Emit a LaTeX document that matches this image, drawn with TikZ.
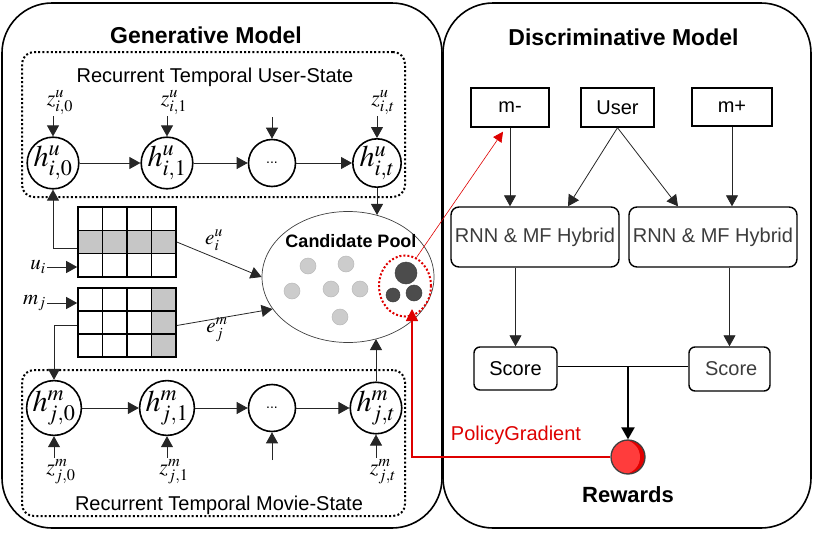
\documentclass[tikz,border=0pt]{standalone}
\usepackage{mathptmx}
\usepackage{fontspec}
\setmainfont{Liberation Sans}
\usetikzlibrary{arrows.meta,shapes.geometric,calc}
\newcommand{\myfs}[1]{\fontsize{#1}{#1}\selectfont}
\definecolor{pgred}{RGB}{222,0,0}
\definecolor{rlight}{RGB}{255,60,60}
\definecolor{rdark}{RGB}{225,0,0}
\definecolor{txtgray}{RGB}{60,60,60}
\begin{document}
\begin{tikzpicture}[x=1pt,y=-1pt,
  outer/.style={draw, line width=1.6pt, rounded corners=50pt, inner sep=0pt},
  dotbox/.style={draw, line width=2pt, dash pattern=on 2pt off 2.2pt, rounded corners=12pt, inner sep=0pt},
  hnode/.style={circle, draw, line width=1.6pt, minimum size=47pt, inner sep=0pt, font=\myfs{30}},
  zlab/.style={inner sep=1pt, font=\myfs{22}},
  ilab/.style={inner sep=1pt, font=\myfs{21}},
  arr/.style={-{Triangle[length=11pt,width=12pt]}, line width=0.8pt, draw=black!85},
  gl/.style={line width=1.6pt},
  shadecell/.style={fill=gray!45},
  sbox/.style={draw, line width=1.4pt, inner sep=0pt, font=\myfs{20}},
  rbox/.style={draw, line width=1.4pt, rounded corners=8pt, inner sep=0pt, font=\myfs{20}, text=txtgray},
  gcirc/.style={circle, fill=gray!40, draw=gray!55, line width=0.5pt, minimum size=16pt, inner sep=0pt},
  dcirc/.style={circle, fill=black!70, draw=black!75, line width=0.5pt, inner sep=0pt},
  title/.style={font=\myfs{23}\bfseries, anchor=base, inner sep=0pt},
  sttext/.style={font=\myfs{20}, anchor=base, inner sep=0pt}
]
\useasboundingbox (0,0) rectangle (815,533);

% outer boxes
\node[outer, minimum width=440pt, minimum height=525pt] (gen) at (222,265.5) {};
\node[outer, minimum width=368pt, minimum height=525pt] (dis) at (627,265.5) {};
\node[title] (gentitle) at (206,43) {Generative Model};
\node[title] (distitle) at (623.5,45) {Discriminative Model};

% dotted boxes
\node[dotbox, minimum width=383pt, minimum height=145pt] (ubox) at (213.5,124.5) {};
\node[dotbox, minimum width=383pt, minimum height=146pt] (mbox) at (213.5,443) {};
\node[sttext] (utext) at (215,82) {Recurrent Temporal User-State};
\node[sttext] (mtext) at (219,510) {Recurrent Temporal Movie-State};

% user-state chain
\node[hnode] (hu0) at (53,163) {$h^{u}_{i,0}$};
\node[hnode] (hu1) at (167,163) {$h^{u}_{i,1}$};
\node[hnode, font=\myfs{14}] (hud) at (272,163) {...};
\node[hnode] (hut) at (377,163) {$h^{u}_{i,t}$};
\draw[arr] (hu0) -- (hu1);
\draw[arr] (hu1) -- (hud);
\draw[arr] (hud) -- (hut);
\node[zlab, anchor=south] (zu0) at (60,116) {$z^{u}_{i,0}$};
\node[zlab, anchor=south] (zu1) at (174,116) {$z^{u}_{i,1}$};
\node[zlab, anchor=south] (zut) at (383,116) {$z^{u}_{i,t}$};
\coordinate (zud) at (272,117);
\draw[arr] (zu0.south -| hu0) -- (hu0.north);
\draw[arr] (zu1.south -| hu1) -- (hu1.north);
\draw[arr] (zud) -- (hud.north);
\draw[arr] (zut.south -| hut) -- (hut.north);

% movie-state chain
\node[hnode] (hm0) at (54,408) {$h^{m}_{j,0}$};
\node[hnode] (hm1) at (167,408) {$h^{m}_{j,1}$};
\node[hnode, font=\myfs{14}] (hmd) at (272,408) {...};
\node[hnode] (hmt) at (376,408) {$h^{m}_{j,t}$};
\draw[arr] (hm0) -- (hm1);
\draw[arr] (hm1) -- (hmd);
\draw[arr] (hmd) -- (hmt);
\node[zlab, anchor=north] (zm0) at (61,458) {$z^{m}_{j,0}$};
\node[zlab, anchor=north] (zm1) at (174,458) {$z^{m}_{j,1}$};
\node[zlab, anchor=north] (zmt) at (383,458) {$z^{m}_{j,t}$};
\coordinate (zmd) at (272,460);
\draw[arr] (zm0.north -| hm0) -- (hm0.south);
\draw[arr] (zm1.north -| hm1) -- (hm1.south);
\draw[arr] (zmd) -- (hmd.south);
\draw[arr] (zmt.north -| hmt) -- (hmt.south);

% user grid
\fill[shadecell] (78,230.33) rectangle (176,253.67);
\foreach \i in {1,2,3} \draw[gl] (78+24.5*\i,207) -- (78+24.5*\i,277);
\foreach \j in {1,2} \draw[gl] (78,207+23.33*\j) -- (176,207+23.33*\j);
\node[draw, gl, minimum width=98pt, minimum height=70pt, inner sep=0pt] (gu) at (127,242) {};

% movie grid
\fill[shadecell] (151.5,288) rectangle (176,357);
\foreach \i in {1,2,3} \draw[gl] (78+24.5*\i,288) -- (78+24.5*\i,357);
\foreach \j in {1,2} \draw[gl] (78,288+23*\j) -- (176,288+23*\j);
\node[draw, gl, minimum width=98pt, minimum height=69pt, inner sep=0pt] (gm) at (127,322.5) {};

% inputs
\node[ilab, anchor=east] (ui) at (47,267) {$u_{i}$};
\node[ilab, anchor=east] (mj) at (47,303) {$m_{j}$};
\draw[arr] (ui.east) -- (ui.east -| gu.west);
\draw[arr] (mj.east) -- (mj.east -| gm.west);
\draw[arr] ([yshift=-6pt]gu.west) -| (hu0.south);
\draw[arr] ([yshift=-3pt]gm.west) -| (hm0.north);

% candidate pool
\node[ellipse, draw=black!75, line width=0.7pt, minimum width=172pt, minimum height=131pt, inner sep=0pt] (pool) at (348,277) {};
\node[font=\myfs{18}\bfseries, anchor=base, inner sep=0pt] (pooltext) at (351,247) {Candidate Pool};
\node[gcirc] (c1) at (308,266) {};
\node[gcirc] (c2) at (346,264) {};
\node[gcirc] (c3) at (292,291) {};
\node[gcirc] (c4) at (331,289) {};
\node[gcirc] (c5) at (360,289) {};
\node[gcirc] (c6) at (340,317) {};
\node[dcirc, minimum size=22pt] (d1) at (406,273) {};
\node[dcirc, minimum size=14pt] (d2) at (393,295) {};
\node[dcirc, minimum size=16pt] (d3) at (414,293) {};
\node[ellipse, draw=pgred, line width=2pt, dash pattern=on 2pt off 2pt, minimum width=52pt, minimum height=61pt, inner sep=0pt] (sel) at (405,286) {};

\node[ilab] (eu) at (214,240) {$e^{u}_{i}$};
\node[ilab] (ej) at (217,330) {$e^{m}_{j}$};
\draw[arr] (gu.east) -- (pool.west);
\draw[arr] ([yshift=-3pt]gm.east) -- (pool.203);
\draw[arr] (hut.south) -- (hut.south |- pool.65);
\draw[arr] (hmt.north) -- (hmt.north |- pool.-65);

% discriminative model
\node[sbox, minimum width=78pt, minimum height=39pt] (mminus) at (510,107.5) {m-};
\node[sbox, minimum width=73pt, minimum height=39pt] (user) at (617.5,107.5) {User};
\node[sbox, minimum width=80pt, minimum height=38pt] (mplus) at (732,107) {m+};
\node[rbox, minimum width=168pt, minimum height=60pt] (rnn1) at (535,237) {RNN \& MF Hybrid};
\node[rbox, minimum width=168pt, minimum height=60pt] (rnn2) at (713,237) {RNN \& MF Hybrid};
\node[rbox, rounded corners=6pt, text=black, minimum width=83pt, minimum height=43pt] (score1) at (515.5,368.5) {Score};
\node[rbox, rounded corners=6pt, minimum width=81pt, minimum height=44pt] (score2) at (729.5,369) {\,Score};

\draw[arr] (mminus.south) -- (mminus.south |- rnn1.north);
\draw[arr] (user.south) -- ([xshift=33pt]rnn1.north);
\draw[arr] (user.south) -- ([xshift=-35pt]rnn2.north);
\draw[arr] (mplus.south) -- (mplus.south |- rnn2.north);
\draw[arr] (score1.north |- rnn1.south) -- (score1.north);
\draw[arr] (score2.north |- rnn2.south) -- (score2.north);
\draw[line width=1.3pt] ([yshift=2pt]score1.east) -- ([yshift=2pt]score1.east -| score2.west);

% rewards
\begin{scope}
  \clip (628,457) circle (17pt);
  \fill[rdark] (628,457) circle (17pt);
  \fill[rlight] (623,457) circle (17pt);
\end{scope}
\node[circle, draw=black!75, line width=1.3pt, minimum size=34pt, inner sep=0pt] (rew) at (628,457) {};
\node[title, font=\myfs{22}\bfseries] (rewtext) at (628,502) {Rewards};
\coordinate (junc) at ([yshift=2pt]rew.north |- score1.east);
\draw[-{Triangle[length=12pt,width=13pt]}, line width=2.2pt] (junc) -- (rew.north);

% policy gradient
\coordinate (pgtip) at (412,309);
\draw[-{Triangle[length=12pt,width=12pt]}, draw=pgred, line width=1.6pt] (rew.west) -| (pgtip);
\node[sttext, text=pgred] (pgtext) at (516,440) {PolicyGradient};
\draw[-{Triangle[length=10pt,width=10pt]}, draw=pgred, line width=0.6pt] (sel.68) -- ([xshift=-7pt,yshift=-4pt]mminus.south);
\end{tikzpicture}
\end{document}
